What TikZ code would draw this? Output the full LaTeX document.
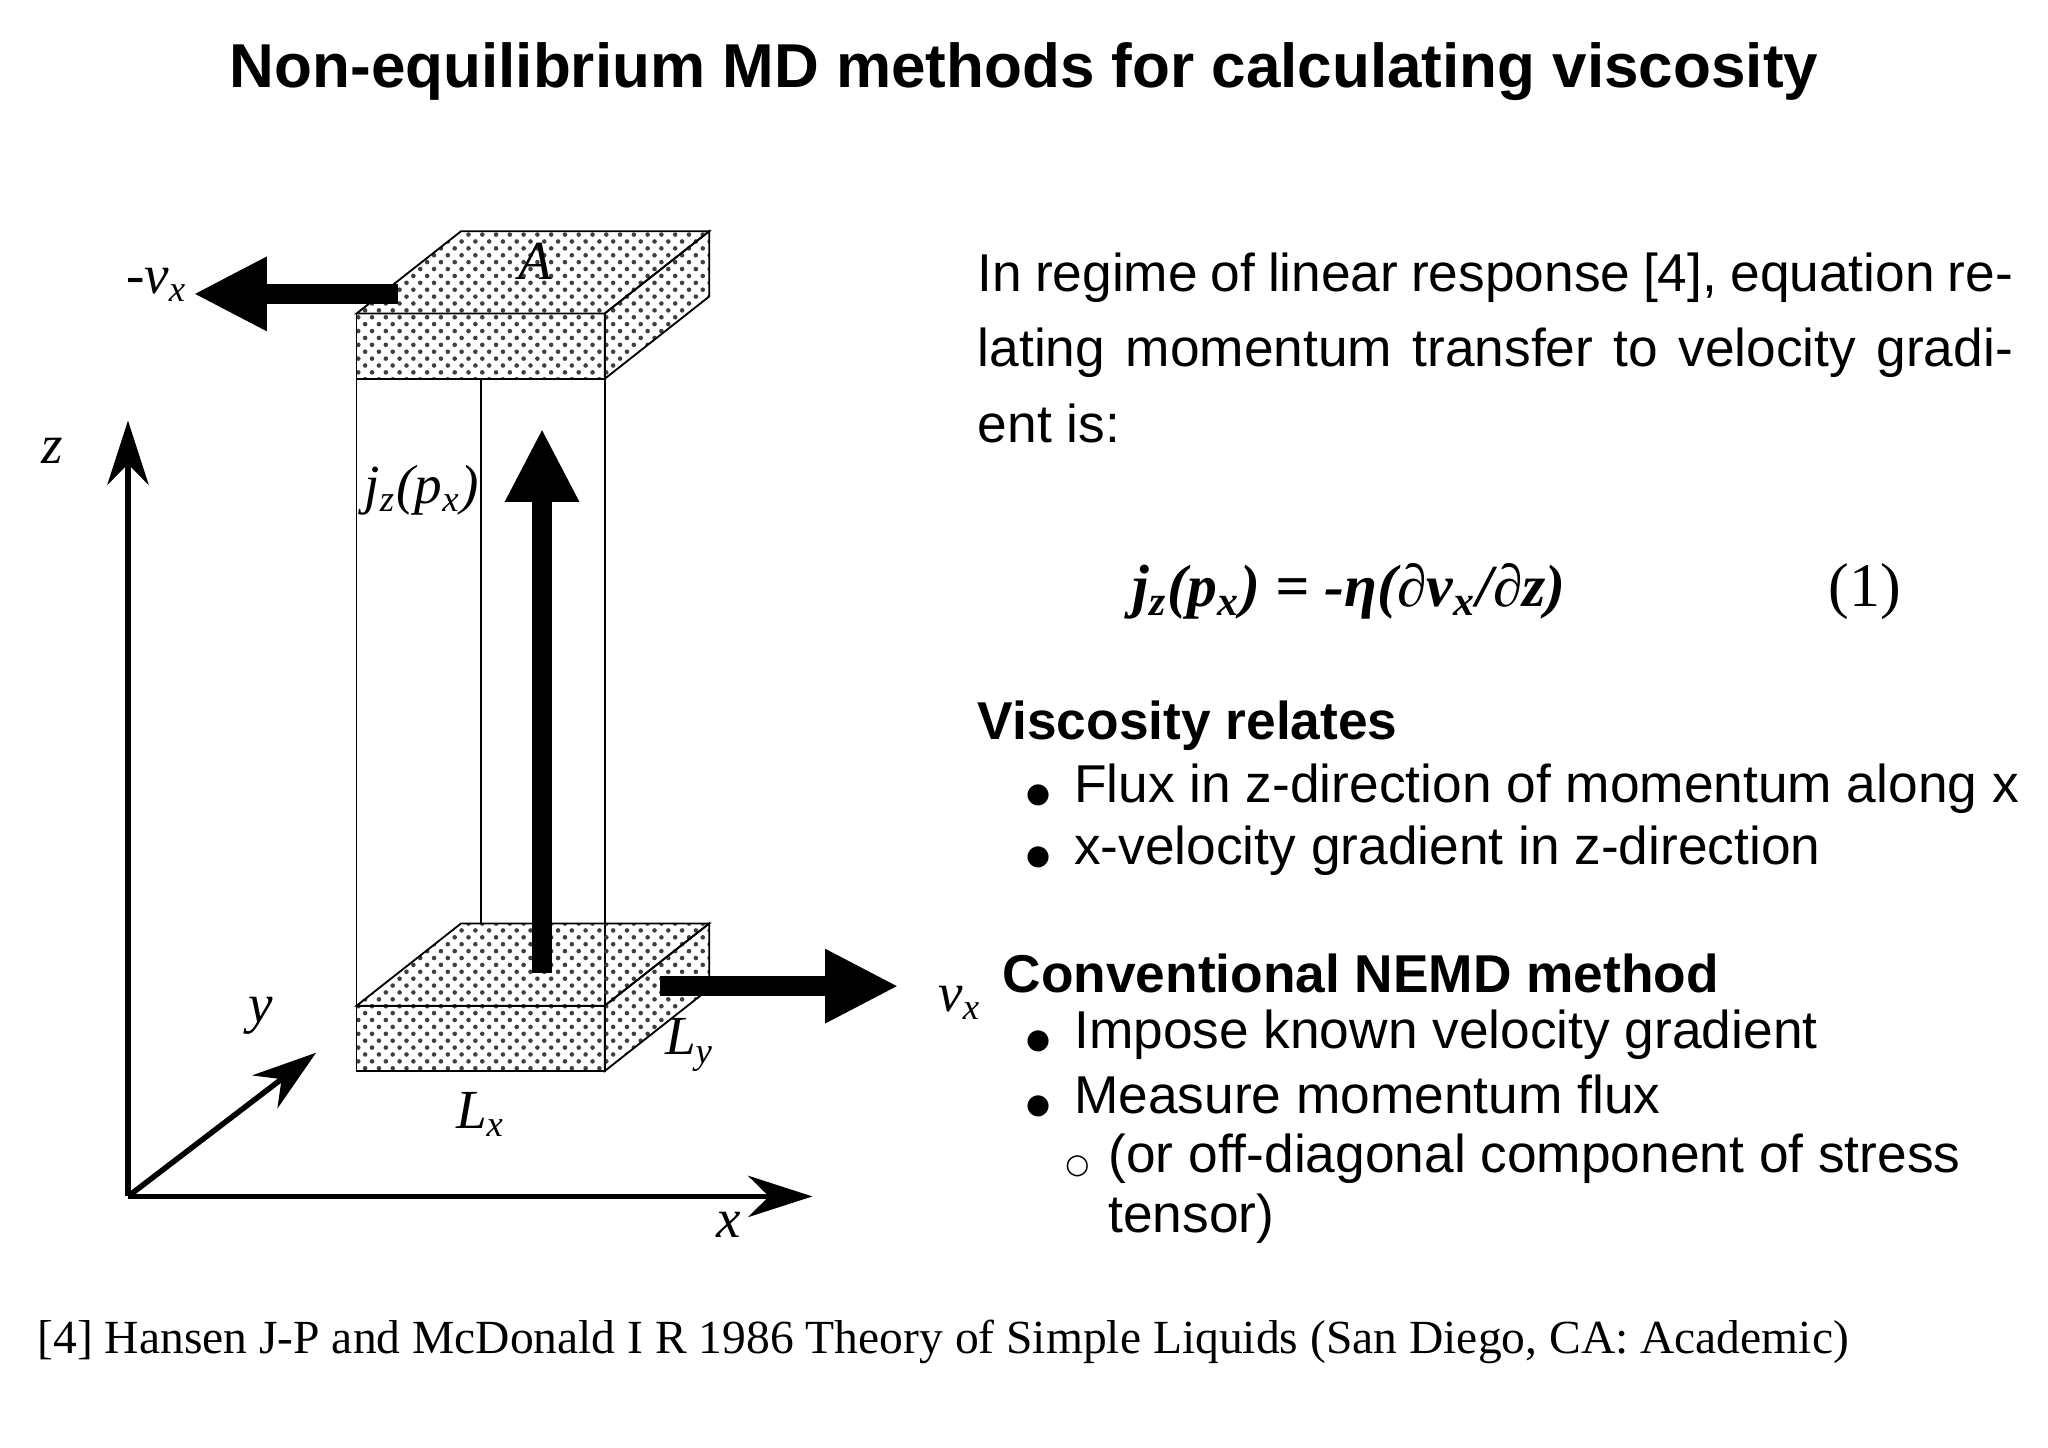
\documentclass[tikz,border=0pt]{standalone}
\usepackage{fontspec}
\setmainfont{Liberation Sans}
\newfontfamily\serifrm{Liberation Serif}
\newfontfamily\symfont{DejaVu Sans}
\usetikzlibrary{patterns,arrows.meta}
\tikzset{
  slab/.style={draw, pattern=crosshatch dots, pattern color=black!75},
  fat/.style={line width=4.5pt, -{Triangle[length=16pt,width=15pt]}},
  axis/.style={line width=1.2pt, -{Stealth[length=14pt,width=9pt]}},
  lbl/.style={font=\serifrm\itshape\fontsize{12}{14}\selectfont},
  body/.style={anchor=west, font=\fontsize{11.6}{14}\selectfont, inner sep=0pt}
}
\newcommand{\blt}{{\symfont\fontsize{6}{7}\selectfont●}\hspace{0.45em}}
\begin{document}
\begin{tikzpicture}[x=0.01cm,y=-0.01cm]
\useasboundingbox (0,0) rectangle (1568,1108);
% title
\node[font=\bfseries\fontsize{13.5}{16}\selectfont] (title) at (784,55) {Non-equilibrium MD methods for calculating viscosity};
% box
\draw[slab] (273,240) rectangle (463,290);
\draw[slab] (273,240) -- (353,177) -- (543,177) -- (463,240) -- cycle;
\draw[slab] (463,240) -- (543,177) -- (543,227) -- (463,290) -- cycle;
\draw (273,290) -- (273,770) (463,290) -- (463,770) (368,290) -- (368,707);
\draw[slab] (273,770) rectangle (463,820);
\draw[slab] (273,770) -- (353,707) -- (543,707) -- (463,770) -- cycle;
\draw[slab] (463,770) -- (543,707) -- (543,757) -- (463,820) -- cycle;
\node[lbl] (A) at (410,200) {A};
% arrows
\coordinate (mvs) at (305,225); \coordinate (mve) at (148,225);
\draw[fat] (mvs) -- (mve);
\node[lbl] (mvx) at (120,218) {-v\textsubscript{x}};
\coordinate (js) at (415,745); \coordinate (je) at (415,328);
\draw[fat] (js) -- (je);
\node[lbl] (jz) at (323,375) {j\textsubscript{z}(p\textsubscript{x})};
\coordinate (vs) at (505,755); \coordinate (ve) at (688,755);
\draw[fat] (vs) -- (ve);
\node[lbl] (vx) at (735,768) {v\textsubscript{x}};
\node[lbl] (Ly) at (528,800) {L\textsubscript{y}};
\node[lbl] (Lx) at (368,853) {L\textsubscript{x}};
% axes
\coordinate (O) at (98,916);
\coordinate (zt) at (98,322); \coordinate (xt) at (622,916); \coordinate (yt) at (242,806);
\draw[axis] (O) -- (zt);
\draw[axis] (O) -- (xt);
\draw[axis] (O) -- (yt);
\node[lbl] (zl) at (40,345) {z};
\node[lbl] (xl) at (558,938) {x};
\node[lbl] (yl) at (200,778) {y};
% text
\node[anchor=north west, inner sep=0pt, text width=7.92cm, align=justify, font=\fontsize{11.6}{16.4}\selectfont] (para) at (748,193)
  {\hyphenpenalty=10000 In regime of linear response [4], equation relating momentum transfer to velocity gradient is:};
\node[font=\serifrm\bfseries\itshape\fontsize{13}{16}\selectfont] (eq) at (1033,453)
  {j\textsubscript{z}(p\textsubscript{x}) = -η(∂v\textsubscript{x}/∂z)};
\node[font=\serifrm\fontsize{13.5}{16}\selectfont] (eqn) at (1428,453) {(1)};
\node[body, font=\bfseries\fontsize{11.6}{14}\selectfont] (h1) at (748,556) {Viscosity relates};
\node[body] (b1) at (785,604) {\blt Flux in z-direction of momentum along x};
\node[body] (b2) at (785,651) {\blt x-velocity gradient in z-direction};
\node[body, font=\bfseries\fontsize{11.6}{14}\selectfont] (h2) at (767,745) {Conventional NEMD method};
\node[body] (b3) at (785,792) {\blt Impose known velocity gradient};
\node[body] (b4) at (785,839) {\blt Measure momentum flux};
\node[body] (s1) at (815,893) {\symfont\fontsize{6}{7}\selectfont○};
\node[body] (s1t) at (848,887) {(or off-diagonal component of stress};
\node[body] (s2t) at (848,933) {tensor)};
% reference
\node[anchor=west, inner sep=0pt, font=\serifrm\fontsize{10.35}{13}\selectfont] (ref) at (28,1027)
  {[4] Hansen J-P and McDonald I R 1986 Theory of Simple Liquids (San Diego, CA: Academic)};
\end{tikzpicture}
\end{document}
